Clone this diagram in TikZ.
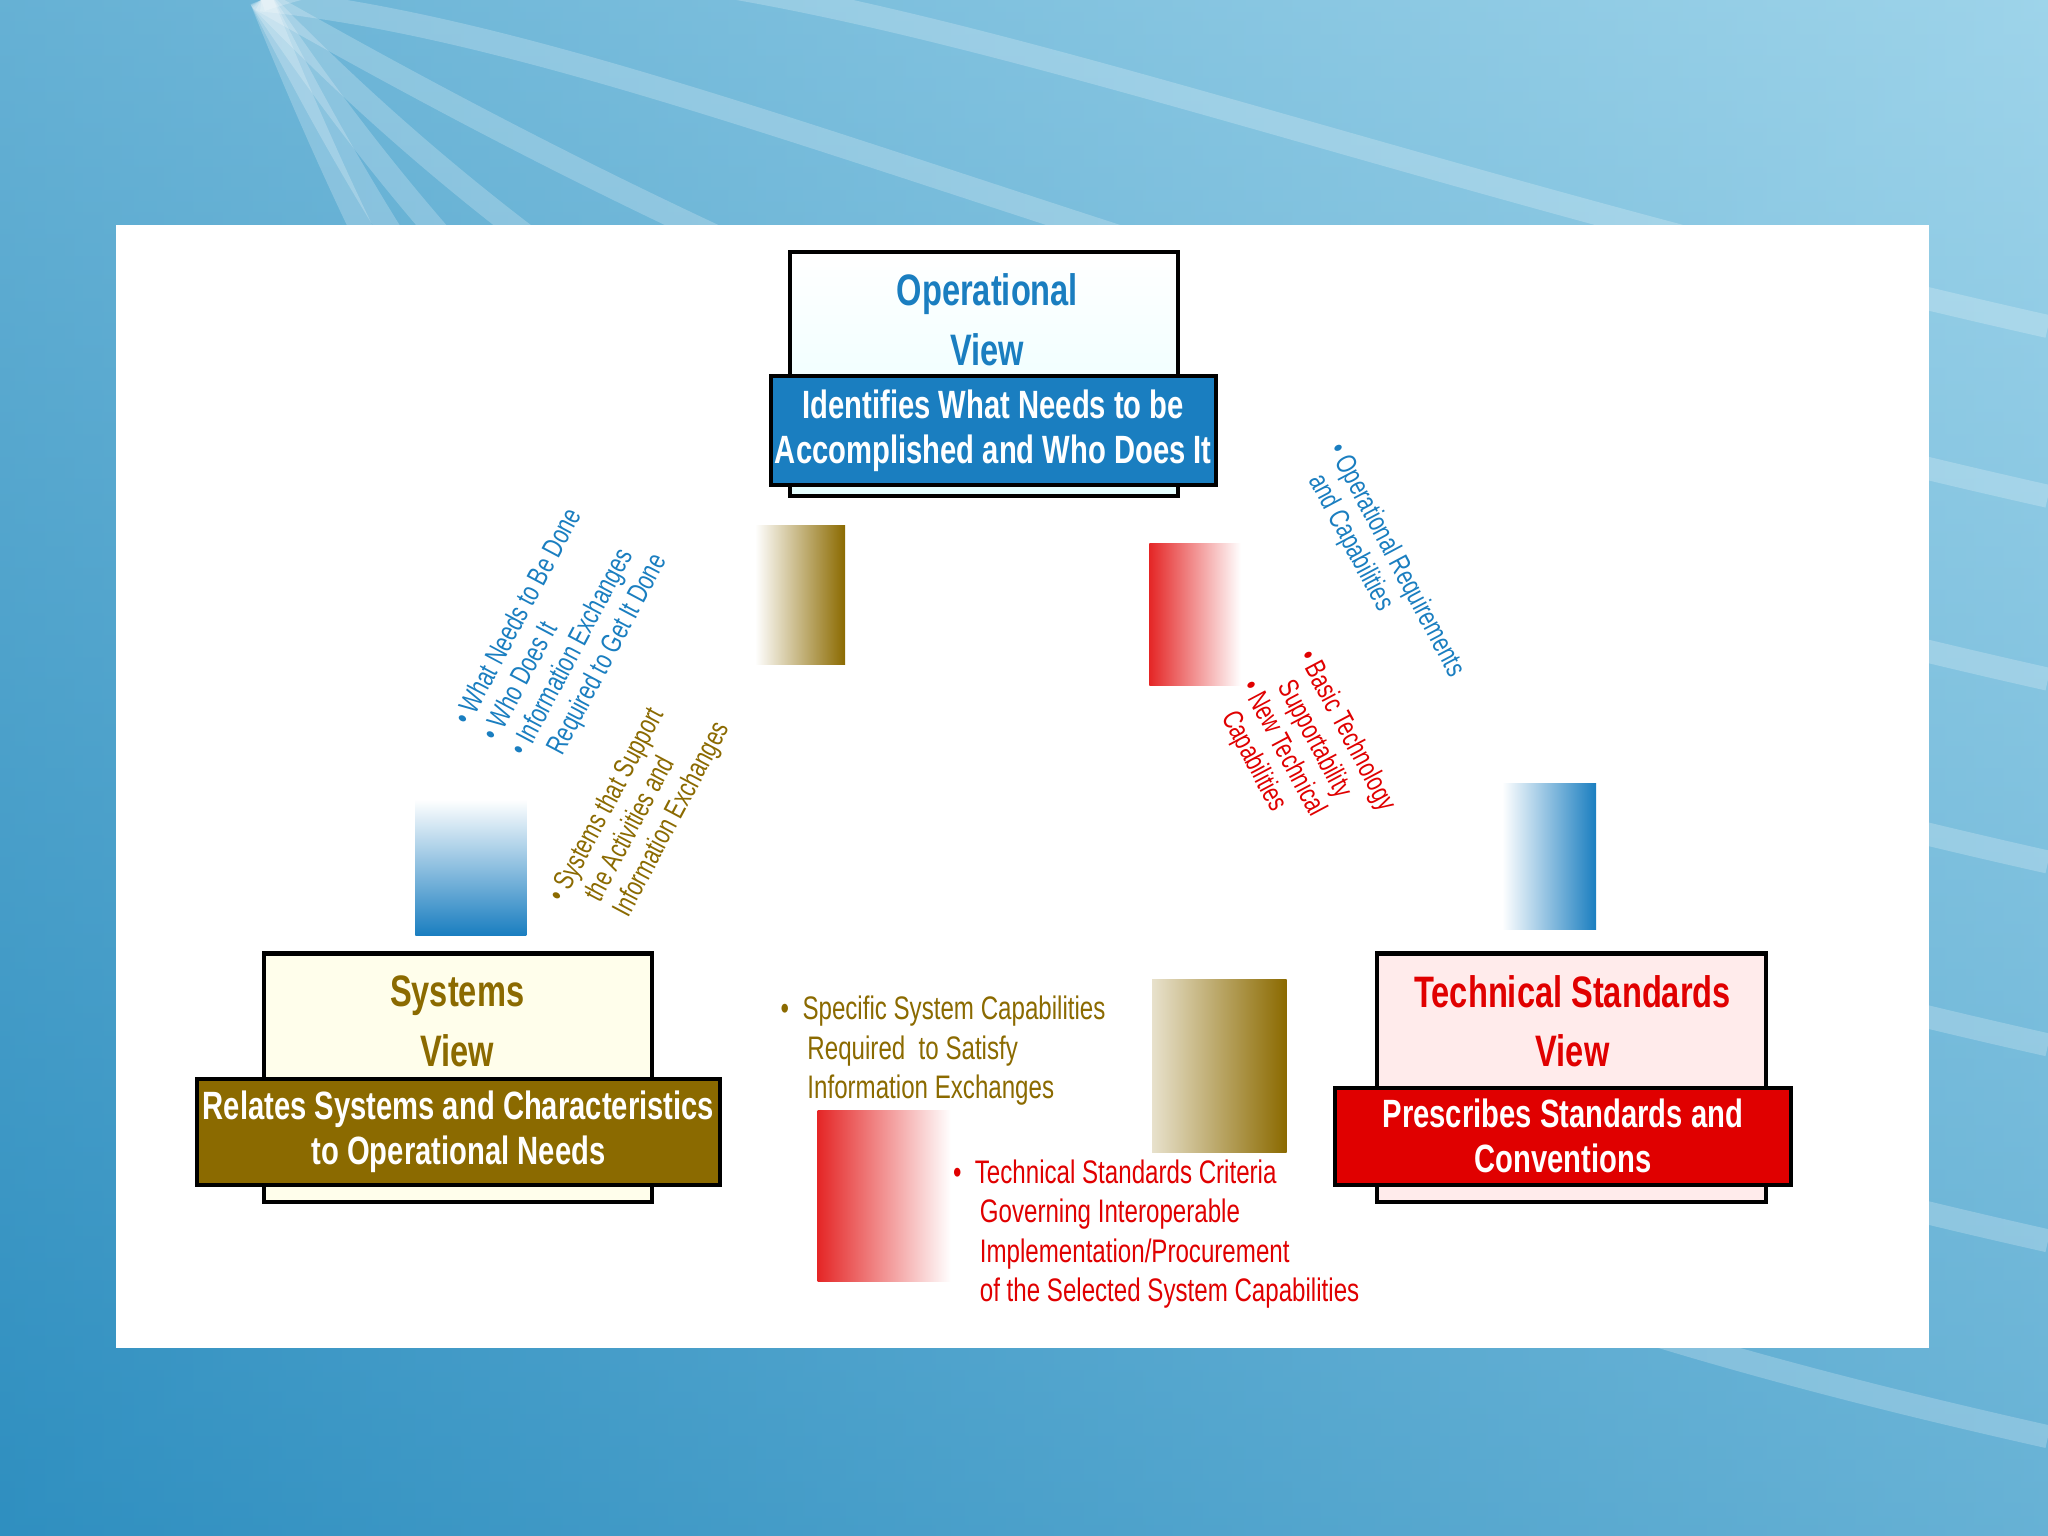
\documentclass[tikz,border=0pt]{standalone}
\usepackage{fontspec}
\setmainfont{Liberation Sans}[FakeStretch=0.74]
\usetikzlibrary{positioning}
\definecolor{opblue}{HTML}{1A7EC0}
\definecolor{olive}{HTML}{8B6A00}
\definecolor{tred}{HTML}{E00000}
\definecolor{bgA}{HTML}{2F8FC0}
\definecolor{bgB}{HTML}{9ED4EA}
\tikzset{
 viewbox/.style={draw=black,line width=0.9pt},
 banner/.style={draw=black,line width=0.9pt,text=white,font=\bfseries\fontsize{8.6}{9.8}\selectfont,align=center,inner sep=0pt},
 title/.style={font=\bfseries\fontsize{9.6}{13}\selectfont,align=center},
 small/.style={font=\fontsize{7.1}{8.6}\selectfont,align=left},
 rot/.style={font=\fontsize{6.2}{7}\selectfont,align=left}
}
\begin{document}
\begin{tikzpicture}[x=0.1mm,y=-0.1mm]
\useasboundingbox (0,0) rectangle (1568,1176);
\shade[top color=bgB,bottom color=bgA] (0,0) rectangle (1568,1176);
\shade[left color=bgA,right color=bgB,opacity=0.5] (0,0) rectangle (1568,1176);
\foreach \r in {250,380,520,660,800,950,1100}{\draw[white,opacity=0.22,line width=5pt] (1568,\r) .. controls (900,\r-150) and (500,\r-350) .. (200,0);}
\fill[white] (89,172) rectangle (1477,1032);
% Operational
\shade[viewbox,top color=white,bottom color=cyan!10] (605,193) rectangle (902,380);
\node[title,text=opblue] (opt) at (756,245) {Operational\\View};
\node[banner,fill=opblue,minimum width=341*0.1mm,minimum height=83*0.1mm] (opb) at (760.5,329.5) {Identifies What Needs to be\\Accomplished and Who Does It};
% Systems
\fill[viewbox,fill=yellow!8] (202,730) rectangle (499,920);
\node[title,text=olive] (syt) at (350,782) {Systems\\View};
\node[banner,fill=olive,minimum width=400*0.1mm,minimum height=81*0.1mm] (syb) at (351,866.5) {Relates Systems and Characteristics\\to Operational Needs};
% Technical
\fill[viewbox,fill=red!8] (1054,730) rectangle (1352,920);
\node[title,text=tred] (tet) at (1204,782) {Technical Standards\\View};
\node[banner,fill=tred,minimum width=349*0.1mm,minimum height=74*0.1mm] (teb) at (1196.5,870) {Prescribes Standards and\\Conventions};
% gradient blocks
\shade[left color=white,right color=olive] (578,402) rectangle (647,509);
\shade[left color=tred!85,right color=white] (880,416) rectangle (950,525);
\shade[top color=white,bottom color=opblue] (318,612) rectangle (403,716);
\shade[left color=white,right color=opblue] (1150,600) rectangle (1222,712);
\shade[left color=olive!20,right color=olive] (882,750) rectangle (985,882);
\shade[left color=tred!85,right color=white] (626,850) rectangle (728,981);
% rotated texts
\node[rot,text=opblue,rotate=62] (lb) at (430,490) {• What Needs to Be Done\\• Who Does It\\• Information Exchanges\\\ \ \ Required to Get It Done};
\node[rot,text=olive,rotate=62] (lo) at (490,622) {• Systems that Support\\\ \ \ the Activities and\\\ \ \ Information Exchanges};
\node[rot,text=opblue,rotate=-62] (rb) at (1058,435) {• Operational Requirements\\\ \ \ and Capabilities};
\node[rot,text=tred,rotate=-62] (rr) at (998,577) {• Basic Technology\\\ \ \ Supportability\\• New Technical\\\ \ \ Capabilities};
% horizontal texts
\node[small,text=olive,anchor=north west,inner sep=0pt] (sc) at (597,762) {•\ \ Specific System Capabilities\\\ \ \ \ Required\ \ to Satisfy\\\ \ \ \ Information Exchanges};
\node[small,text=tred,anchor=north west,inner sep=0pt] (ts) at (729,887) {•\ \ Technical Standards Criteria\\\ \ \ \ Governing Interoperable\\\ \ \ \ Implementation/Procurement\\\ \ \ \ of the Selected System Capabilities};
\end{tikzpicture}
\end{document}
